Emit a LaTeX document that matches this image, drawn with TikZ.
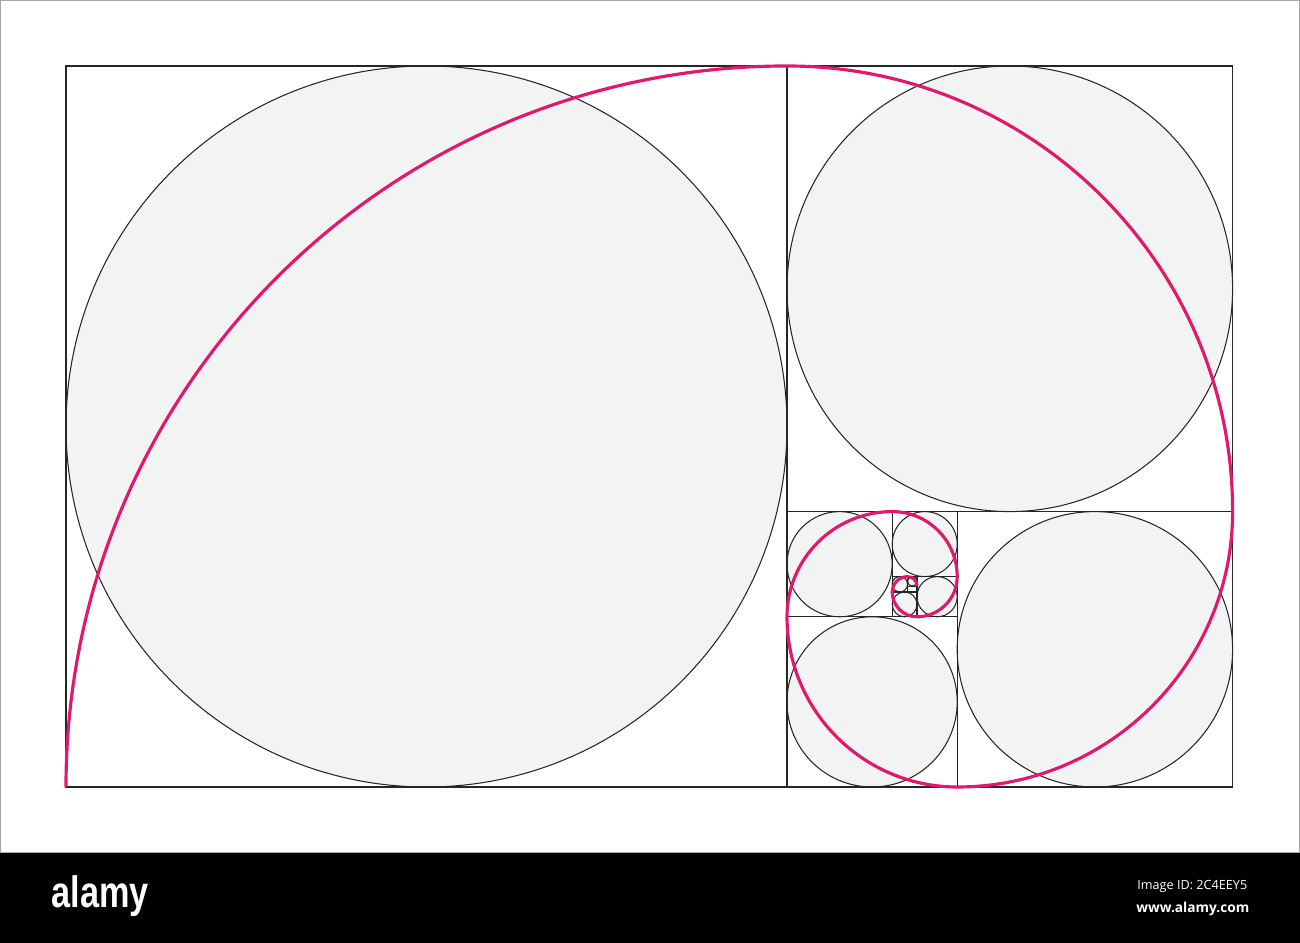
\documentclass[tikz,border=0pt]{standalone}
\usepackage{fontspec}
\setmainfont{Liberation Sans}
\newfontfamily\opensans{Open Sans}
\definecolor{discfill}{HTML}{F2F3F3}
\definecolor{spiralpink}{HTML}{E0196E}
\tikzset{
  sq/.style={draw=black!85, line width=0.3pt},
  disc/.style={draw=black!85, fill=discfill, line width=0.3pt},
  golden/.style={draw=spiralpink, line width=0.9pt},
}
\begin{document}
\begin{tikzpicture}[x=0.01cm,y=0.01cm]
	\useasboundingbox (0,0) rectangle (1300,943);
	\draw[gray!70, line width=0.5pt] (0.5,90) rectangle (1299.5,942.5);
	\fill[black] (0,0) rectangle (1300,90);
	% inscribed circles
	\draw[disc] (426.5,516.5) circle (360.5);
	\draw[disc] (1009.8,654.2) circle (222.8);
	\draw[disc] (1094.9,293.7) circle (137.7);
	\draw[disc] (872.1,241.1) circle (85.1);
	\draw[disc] (839.6,378.8) circle (52.6);
	\draw[disc] (924.7,398.9) circle (32.5);
	\draw[disc] (937.1,346.3) circle (20.1);
	\draw[disc] (904.6,338.6) circle (12.4);
	\draw[disc] (899.85,358.7) circle (7.67);
	\draw[disc] (912.25,361.65) circle (4.74);
	% squares
	\draw[sq] (66,156) rectangle +(721,721);
	\draw[sq] (787,431.4) rectangle +(445.6,445.6);
	\draw[sq] (957.2,156) rectangle +(275.4,275.4);
	\draw[sq] (787,156) rectangle +(170.2,170.2);
	\draw[sq] (787,326.2) rectangle +(105.2,105.2);
	\draw[sq] (892.2,366.4) rectangle +(65,65);
	\draw[sq] (917,326.2) rectangle +(40.2,40.2);
	\draw[sq] (892.2,326.2) rectangle +(24.8,24.8);
	\draw[sq] (892.2,351) rectangle +(15.35,15.35);
	\draw[sq] (907.5,356.9) rectangle +(9.5,9.5);
	% spiral
	\draw[golden] (66,156) arc (180:90:721) arc (90:0:445.6) arc (0:-90:275.4)
		arc (-90:-180:170.2) arc (180:90:105.2) arc (90:0:65) arc (0:-90:40.2)
		arc (-90:-180:24.8) arc (180:90:15.35) arc (90:0:9.5);
	% footer
	\node[anchor=base west, inner sep=0pt, text=white, xscale=0.78, font=\fontsize{12.5}{13}\selectfont\bfseries] (logo) at (51,35) {alamy};
	\node[anchor=base east, inner sep=0pt, text=white, font=\opensans\fontsize{3.6}{4}\selectfont] (imageid) at (1248,53) {Image ID: 2C4EEY5};
	\node[anchor=base east, inner sep=0pt, text=white, font=\opensans\fontsize{3.9}{4}\selectfont\bfseries] (website) at (1250,30) {www.alamy.com};
\end{tikzpicture}
\end{document}
